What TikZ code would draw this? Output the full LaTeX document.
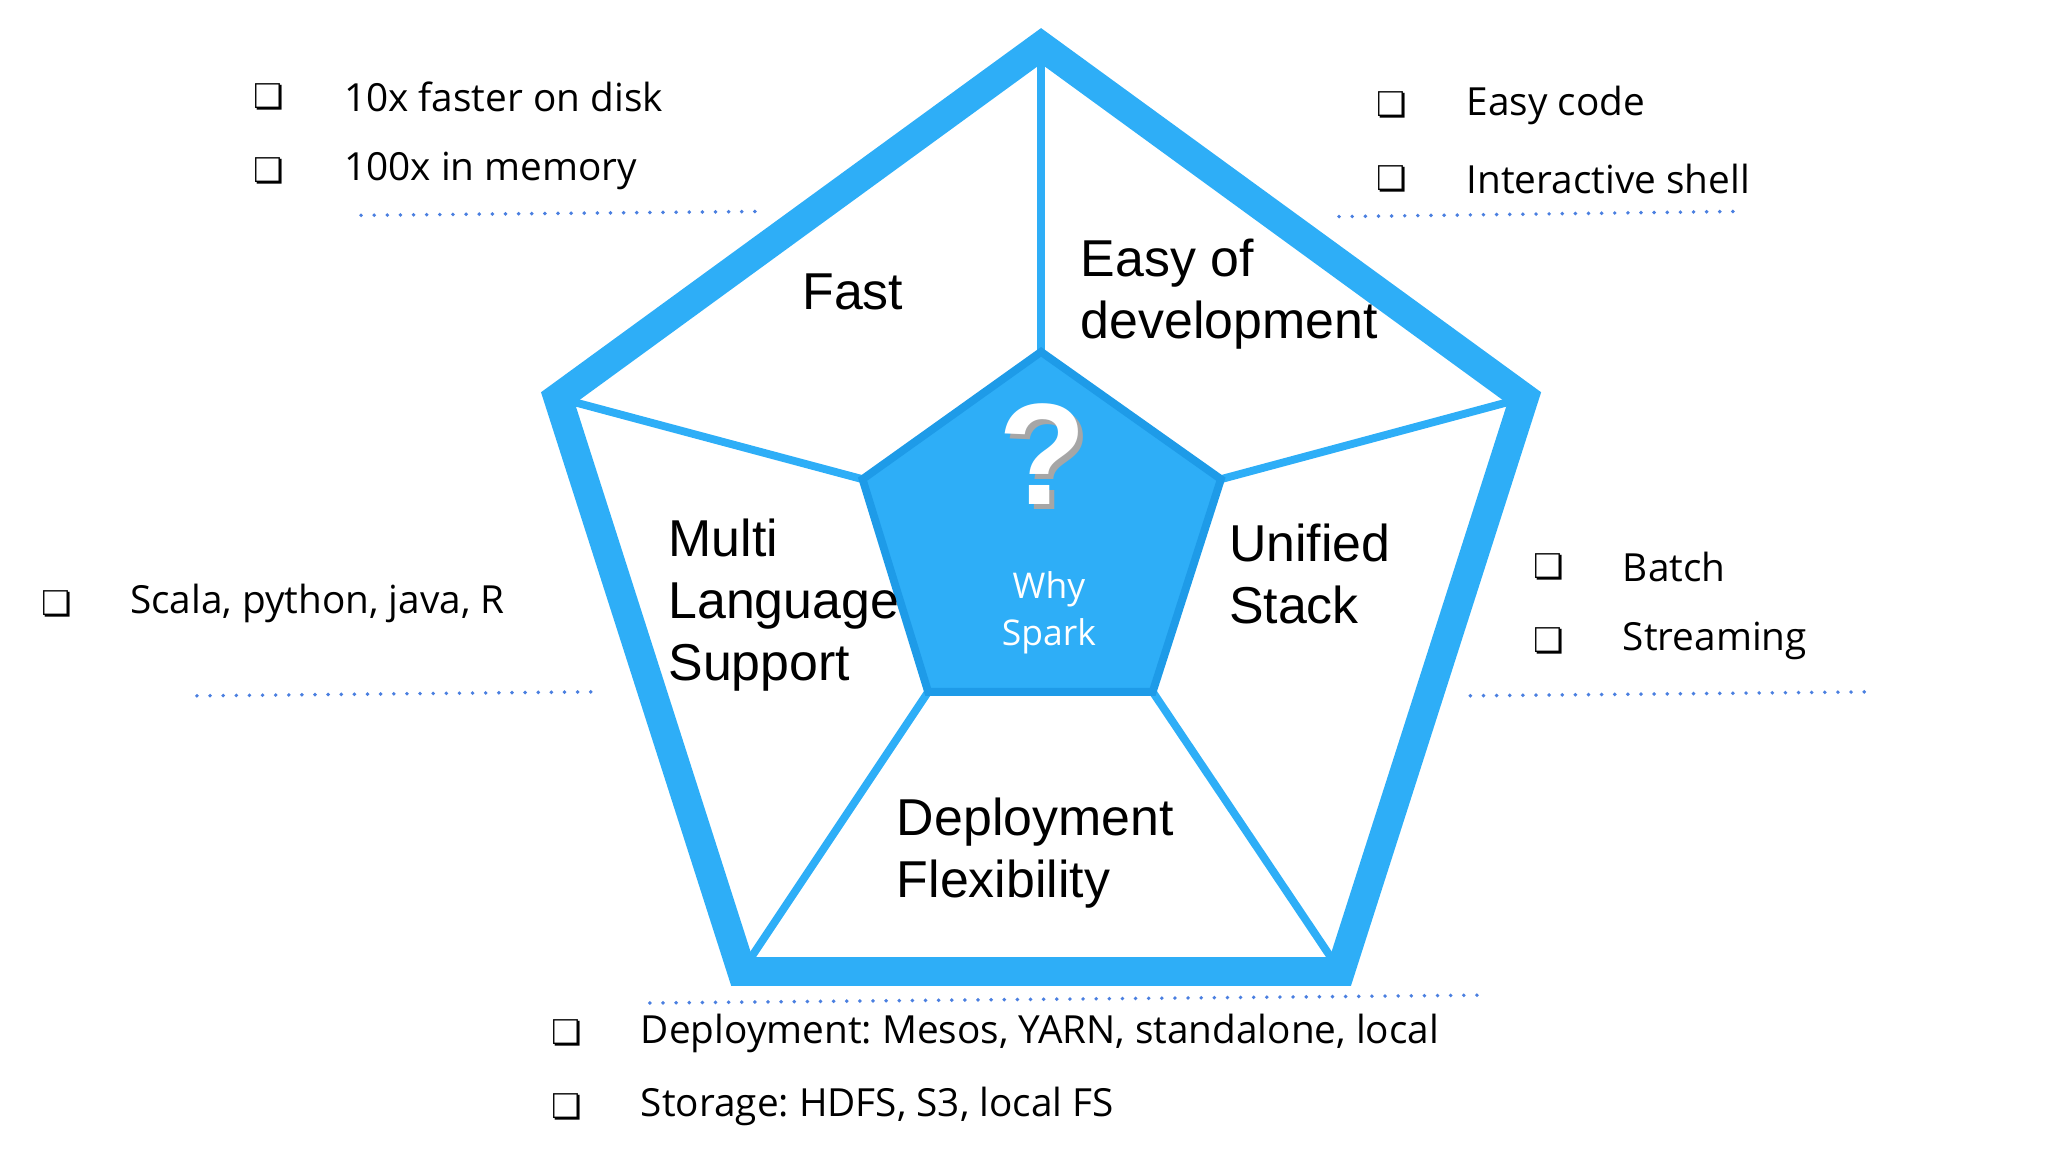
\documentclass[tikz,border=0pt]{standalone}
\usepackage{fontspec}
\setmainfont{Liberation Sans}
\newfontfamily\osans{Open Sans}
\newfontfamily\djv{DejaVu Sans}
\definecolor{sb}{HTML}{2EAEF7}
\definecolor{sbd}{HTML}{1E9BE8}
\definecolor{dotc}{HTML}{4A7FE0}
\begin{document}
\frenchspacing
\begin{tikzpicture}[x=1pt,y=-1pt,
  lab/.style={anchor=west,align=left,font=\fontsize{39.5}{47}\selectfont,inner sep=0},
  bul/.style={anchor=west,font=\osans\fontsize{29.5}{33}\selectfont,inner sep=0},
  box/.style={anchor=center,font=\djv\bfseries\fontsize{26}{26}\selectfont,inner sep=0},
  dl/.style={dotc,line width=3pt,dash pattern=on 0pt off 10pt,line cap=round}]
\useasboundingbox (0,0) rectangle (1560,877.7);
% outer pentagon
\coordinate (T) at (793,35); \coordinate (R) at (1161,303);
\coordinate (BR) at (1021,740); \coordinate (BL) at (565,740);
\coordinate (L) at (425,303);
\draw[sb,line width=22pt,line join=miter] (T)--(R)--(BR)--(BL)--(L)--cycle;
% inner
\coordinate (t) at (793,268); \coordinate (r) at (930,365);
\coordinate (br) at (878,527); \coordinate (bl) at (707,527);
\coordinate (l) at (657,365);
\foreach \a/\b in {t/T,r/R,br/BR,bl/BL,l/L} \draw[sb,line width=6pt] (\a)--(\b);
\draw[sbd,fill=sb,line width=6pt,line join=miter] (t)--(r)--(br)--(bl)--(l)--cycle;
\node[text=white,font=\bfseries\fontsize{110}{110}\selectfont] (q) at (794,348)
  {\makebox[0pt][l]{\kern4pt\raisebox{-4pt}{\color{gray!70}?}}?};
\node[text=white,align=center,font=\osans\fontsize{27}{36}\selectfont] (why) at (799,467) {Why\\Spark};
% labels
\node[lab] (fast) at (611,222) {Fast};
\node[lab] (easy) at (823,224) {Easy of\\development};
\node[lab] (multi) at (509,461) {Multi\\Language\\Support};
\node[lab] (uni) at (936,437) {Unified\\Stack};
\node[lab] (dep) at (683,650) {Deployment\\Flexibility};
% bullets
\foreach \n/\bx/\tx/\y/\t in {a/205/262/74/10x faster on disk, b/205/262/130/100x in memory,
  c/1060/1117/80/Easy code, d/1060/1117/136/Interactive shell,
  e/43/99/460/{Scala, python, java, R},
  f/1180/1236/432/Batch, g/1180/1236/488/Streaming,
  h/432/488/787/{Deployment: Mesos, YARN, standalone, local},
  i/432/488/843/{Storage: HDFS, S3, local FS}}{
  \node[box] (bx\n) at (\bx,\y) {❏};
  \node[bul] (bt\n) at (\tx,\y) {\t};
}
% dotted lines
\coordinate (d1a) at (275,164); \coordinate (d1b) at (580,161);
\coordinate (d2a) at (1020,165); \coordinate (d2b) at (1325,161);
\coordinate (d3a) at (150,530); \coordinate (d3b) at (455,527);
\coordinate (d4a) at (1120,530); \coordinate (d4b) at (1425,527);
\coordinate (d5a) at (495,764); \coordinate (d5b) at (1128,758);
\foreach \i in {1,...,5} \draw[dl] (d\i a)--(d\i b);
\end{tikzpicture}
\end{document}
